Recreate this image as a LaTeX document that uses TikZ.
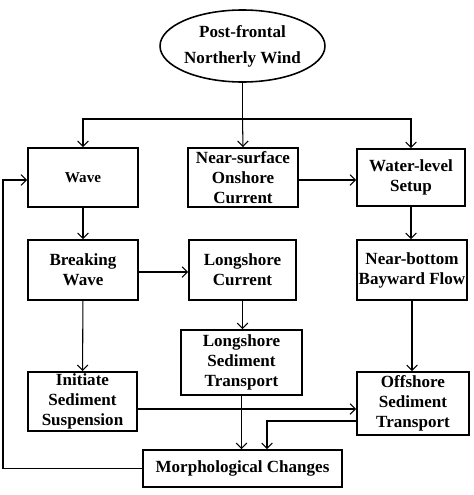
\documentclass[tikz,border=0pt]{standalone}
\usepackage{fontspec}
\setmainfont{Liberation Serif}
\usetikzlibrary{positioning, shapes.geometric, arrows.meta}

\begin{document}
\begin{tikzpicture}[auto, node distance=3.2cm,
  thick,main box/.style={rectangle,draw,line width=1.1pt,align=center,
    minimum width=2.2cm,minimum height=1.18cm,inner sep=1pt,
    font=\bfseries\fontsize{9.7}{11.4}\selectfont},
  flow/.style={-{Straight Barb[length=3pt,width=6pt]},line width=0.6pt}]

\useasboundingbox (0,0) rectangle (9.48,-9.9);

\node[ellipse,draw,line width=0.9pt,minimum width=2.82cm,minimum height=1.44cm,inner sep=0pt,
  align=center,font=\bfseries\fontsize{9.7}{14.7}\selectfont] (wind) at (4.85,-0.92) {Post-frontal\\Northerly Wind};

\node[main box,font=\bfseries\fontsize{8.6}{10}\selectfont] (wave) at (1.66,-3.55) {Wave};
\node[main box] (ns) [right of=wave] {Near-surface\\Onshore\\Current};
\node[main box,minimum width=2.16cm,minimum height=1.14cm] (wl) [right of=ns, node distance=3.36cm] {Water-level\\Setup};
\node[main box,minimum height=1.2cm] (bw) [below of=wave, node distance=1.85cm] {Breaking\\Wave};
\node[main box,minimum width=2.14cm,minimum height=1.2cm] (lc) [right of=bw, node distance=3.19cm] {Longshore\\Current};
\node[main box,minimum width=2.16cm,minimum height=1.2cm] (nb) [right of=lc, node distance=3.39cm] {Near-bottom\\Bayward Flow};
\node[main box,minimum width=2.42cm,minimum height=1.3cm] (lst) at (4.83,-7.25) {Longshore\\Sediment\\Transport};
\node[main box,minimum width=2.18cm] (is) at (1.65,-8.03) {Initiate\\Sediment\\Suspension};
\node[main box,minimum width=2.24cm,minimum height=1.26cm] (os) at (8.26,-8.07) {Offshore\\Sediment\\Transport};
\node[main box,minimum width=3.98cm,minimum height=0.74cm] (mc) at (4.85,-9.37) {Morphological Changes};

\coordinate (split) at (4.85,-2.38);
\coordinate (fb) at (0.06,-3.6);

% wind splits into three
\draw[line width=0.6pt] (wind.south) -- (split);
\draw[flow] (split) -- (ns.north);
\draw[flow] (split) -| (wave.north);
\draw[flow] (split) -| (wl.north);

\draw[flow] ([yshift=-0.05cm]ns.east) -- ([yshift=-0.05cm]ns.east -| wl.west);
\draw[flow] (wave) -- (bw);
\draw[flow] (wl.south) -- (wl.south |- nb.north);
\draw[flow] ([yshift=-0.04cm]bw.east) -- ([yshift=-0.04cm]bw.east -| lc.west);
\draw[flow] (bw) -- (is);
\draw[flow] (lc.south) -- (lc.south |- lst.north);
\draw[flow] (nb.south) -- (nb.south |- os.north);
\draw[flow] ([yshift=-0.15cm]is.east) -- ([yshift=-0.15cm]is.east -| os.west);
\draw[flow] (lst.south) -- (lst.south |- mc.north);
\draw[flow] ([yshift=-0.35cm]os.west) -| ([xshift=0.49cm]mc.north);

% feedback to wave
\draw[flow] (mc.west) -- (mc.west -| fb) -- (fb) -- (fb -| wave.west);

\end{tikzpicture}
\end{document}
